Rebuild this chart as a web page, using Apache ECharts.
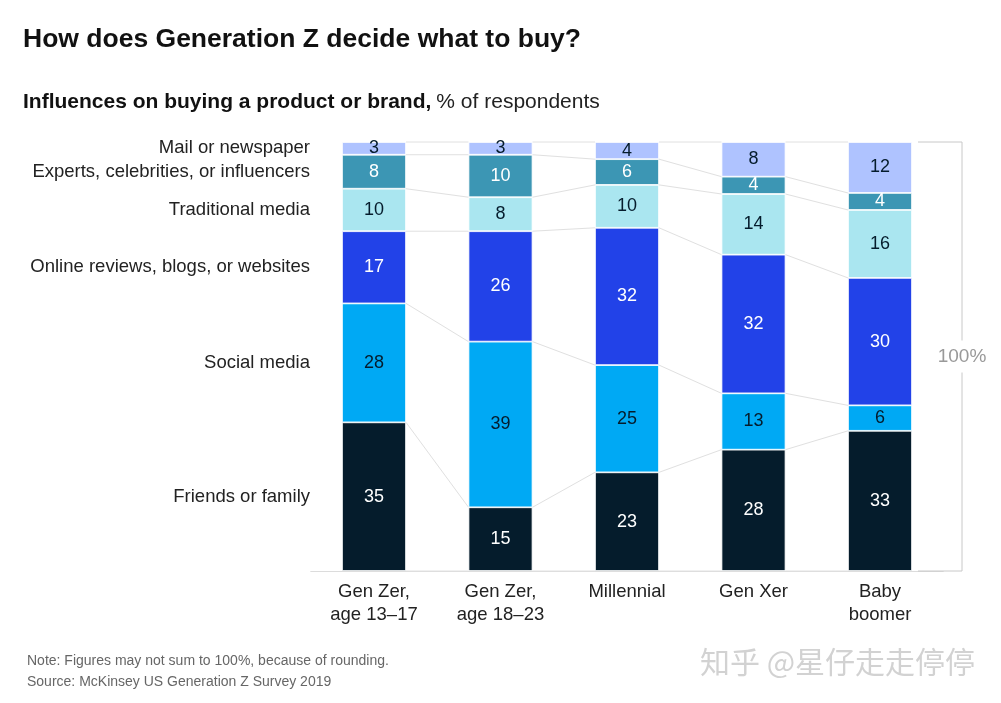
<!DOCTYPE html>
<html>
<head>
<meta charset="utf-8">
<script src="https://cdn.jsdelivr.net/npm/echarts@6/dist/echarts.min.js"></script>
<style>
html,body{margin:0;padding:0;background:#fff;}
#c{width:1001px;height:703px;}
</style>
</head>
<body>
<div id="c"></div>
<script>
// ---- data ----
var categories = ['Gen Zer,\nage 13\u201317', 'Gen Zer,\nage 18\u201323', 'Millennial', 'Gen Xer', 'Baby\nboomer'];
var seriesNames = ['Friends or family', 'Social media', 'Online reviews, blogs, or websites', 'Traditional media', 'Experts, celebrities, or influencers', 'Mail or newspaper'];
var friendsFamily = [35, 15, 23, 28, 33];
var socialMedia = [28, 39, 25, 13, 6];
var onlineReviews = [17, 26, 32, 32, 30];
var traditionalMedia = [10, 8, 10, 14, 16];
var expertsCelebs = [8, 10, 6, 4, 4];
var mailNewspaper = [3, 3, 4, 8, 12];

var raw = [friendsFamily, socialMedia, onlineReviews, traditionalMedia, expertsCelebs, mailNewspaper];
var colors = ['#051C2C', '#00A9F4', '#2242E8', '#AAE6F0', '#3C96B4', '#AFC3FF'];
var labelColors = ['#ffffff', '#051C2C', '#ffffff', '#051C2C', '#ffffff', '#051C2C'];

var FONT = 'Liberation Sans, Arial, sans-serif';
var BAR_W = 64;

// totals per category (bars are drawn full height, 100%)
var totals = categories.map(function (_, i) {
  return raw.reduce(function (s, arr) { return s + arr[i]; }, 0);
});
var norm = raw.map(function (arr) {
  return arr.map(function (v, i) { return { value: v / totals[i] * 100, raw: v }; });
});
// cumulative boundaries per category (0 .. 100)
var cum = categories.map(function (_, i) {
  var c = [0], s = 0;
  for (var k = 0; k < raw.length; k++) { s += raw[k][i] / totals[i] * 100; c.push(s); }
  return c;
});

var chart = echarts.init(document.getElementById('c'), null, { renderer: 'canvas' });

var barSeries = raw.map(function (arr, k) {
  return {
    name: seriesNames[k],
    type: 'bar',
    stack: 'all',
    barWidth: BAR_W,
    data: norm[k],
    itemStyle: { color: colors[k], borderColor: '#ffffff', borderWidth: 0.8 },
    label: {
      show: true,
      position: 'inside',
      color: labelColors[k],
      fontFamily: FONT,
      fontSize: 18,
      formatter: function (p) { return p.data.raw; }
    },
    emphasis: { disabled: true },
    z: 3
  };
});

// connecting lines between bars
var connectors = {
  type: 'custom',
  silent: true,
  z: 1,
  data: [[0], [1], [2], [3]],
  renderItem: function (params, api) {
    var i = api.value(0);
    var children = [];
    for (var k = 0; k < cum[i].length; k++) {
      var p1 = api.coord([i, cum[i][k]]);
      var p2 = api.coord([i + 1, cum[i + 1][k]]);
      children.push({
        type: 'line',
        shape: { x1: p1[0] + BAR_W / 2, y1: p1[1], x2: p2[0] - BAR_W / 2, y2: p2[1] },
        style: { stroke: '#e0e0e0', lineWidth: 1 }
      });
    }
    return { type: 'group', children: children };
  }
};

// left-side series labels (aligned with the first bar's segments)
var sideLabels = {
  type: 'custom',
  silent: true,
  z: 4,
  data: seriesNames.map(function (_, k) { return [k]; }),
  renderItem: function (params, api) {
    var k = api.value(0);
    var mid = (cum[0][k] + cum[0][k + 1]) / 2;
    var p = api.coord([0, mid]);
    return {
      type: 'text',
      style: {
        x: p[0] - BAR_W / 2 - 32,
        y: p[1],
        text: seriesNames[k],
        textAlign: 'right',
        textVerticalAlign: 'middle',
        fill: '#222222',
        font: '18.5px ' + FONT
      }
    };
  }
};

// right bracket with 100%
var bracket = {
  type: 'custom',
  silent: true,
  z: 2,
  data: [[4]],
  renderItem: function (params, api) {
    var i = api.value(0);
    var top = api.coord([i, 100]);
    var bot = api.coord([i, 0]);
    var x0 = top[0] + BAR_W / 2 + 6;
    var x1 = top[0] + BAR_W / 2 + 50;
    var midY = (top[1] + bot[1]) / 2;
    var st = { stroke: '#c8c8c8', lineWidth: 1 };
    return {
      type: 'group',
      children: [
        { type: 'line', shape: { x1: x0, y1: top[1], x2: x1, y2: top[1] }, style: st },
        { type: 'line', shape: { x1: x1, y1: top[1], x2: x1, y2: midY - 16 }, style: st },
        { type: 'line', shape: { x1: x1, y1: midY + 16, x2: x1, y2: bot[1] }, style: st },
        { type: 'line', shape: { x1: x0, y1: bot[1], x2: x1, y2: bot[1] }, style: st },
        { type: 'text', style: { x: x1, y: midY, text: '100%', textAlign: 'center', textVerticalAlign: 'middle', fill: '#999999', font: '19px ' + FONT } }
      ]
    };
  }
};

chart.setOption({
  animation: false,
  backgroundColor: '#ffffff',
  title: [
    {
      text: 'How does Generation Z decide what to buy?',
      left: 23, top: 26, padding: 0,
      textStyle: { fontFamily: FONT, fontSize: 26.5, fontWeight: 'bold', color: '#111111' }
    },
    {
      text: '{b|Influences on buying a product or brand,} {n|% of respondents}',
      left: 23, top: 92, padding: 0,
      textStyle: {
        fontWeight: 'normal',
        rich: {
          b: { fontFamily: FONT, fontSize: 21, fontWeight: 'bold', color: '#111111' },
          n: { fontFamily: FONT, fontSize: 21, fontWeight: 'normal', color: '#222222' }
        }
      }
    },
    {
      text: 'Note: Figures may not sum to 100%, because of rounding.\nSource: McKinsey US Generation Z Survey 2019',
      left: 27, top: 651, padding: 0,
      textStyle: { fontFamily: FONT, fontSize: 14, color: '#666666', lineHeight: 21, fontWeight: 'normal' }
    },
    {
      text: '\u77e5\u4e4e @\u661f\u4ed4\u8d70\u8d70\u505c\u505c',
      left: 700, top: 647, padding: 0,
      textStyle: { fontFamily: 'Noto Sans CJK SC, sans-serif', fontSize: 30, color: '#d2d2d2', fontWeight: 'normal' }
    }
  ],
  grid: { left: 310.75, right: 57.75, top: 142, bottom: 132, containLabel: false },
  xAxis: {
    type: 'category',
    data: categories,
    axisLine: { show: true, lineStyle: { color: '#dcdcdc' } },
    axisTick: { show: false },
    axisLabel: { color: '#222222', fontFamily: FONT, fontSize: 18.5, lineHeight: 23, margin: 9, interval: 0 }
  },
  yAxis: {
    type: 'value', min: 0, max: 100, show: false, splitLine: { show: false }
  },
  tooltip: { show: false },
  series: barSeries.concat([connectors, sideLabels, bracket])
});
</script>
</body>
</html>
